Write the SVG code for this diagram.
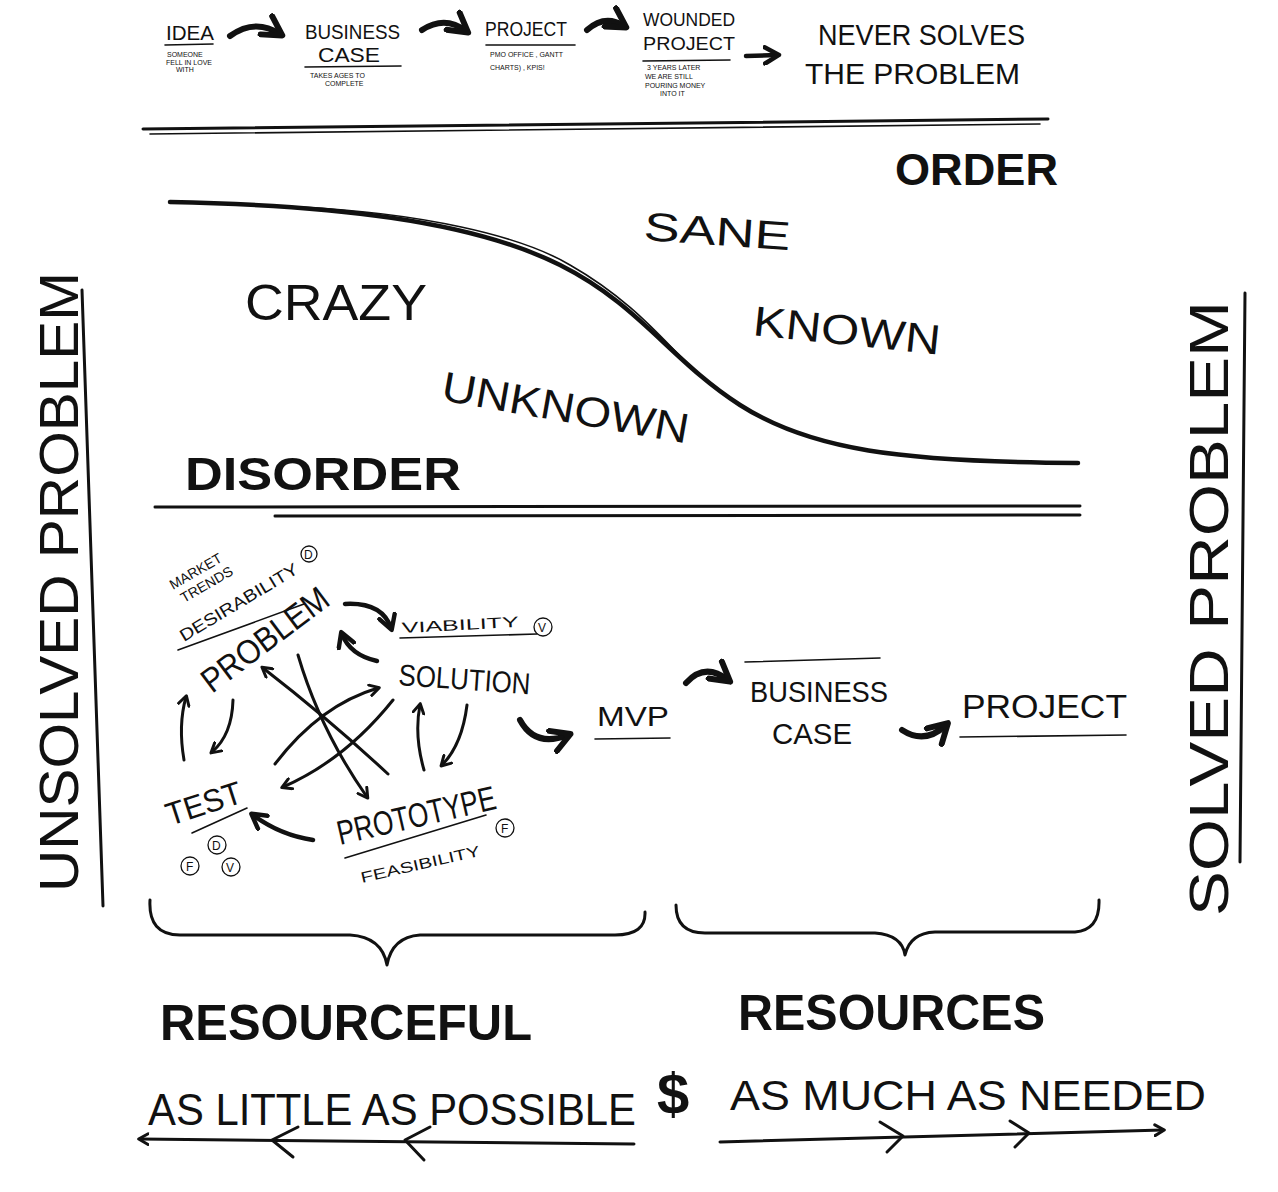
<svg xmlns="http://www.w3.org/2000/svg" width="1278" height="1192" viewBox="0 0 1278 1192">
<style>
text{font-family:"Liberation Sans",Arial,sans-serif;fill:#111}
.t{font-weight:normal}
.b{font-weight:bold}
.s{font-size:7px}
.ln{fill:none;stroke:#111;stroke-linecap:round;stroke-linejoin:round}
.thin{stroke-width:1.6}
.med{stroke-width:3}
.thick{stroke-width:4.5}
.xl{stroke-width:6}
.circ{fill:none;stroke:#111;stroke-width:1.3}
</style>
<defs>
<marker id="ah" viewBox="0 0 10 10" refX="7" refY="5" markerWidth="4.5" markerHeight="4.5" orient="auto-start-reverse">
<path d="M1,1 L8,5 L1,9" fill="none" stroke="#111" stroke-width="2.2" stroke-linecap="round" stroke-linejoin="round"/>
</marker>
</defs>
<rect width="1278" height="1192" fill="#fff"/>

<!-- Top flow -->
<g id="idea">
<text x="166" y="40" font-size="20" textLength="48" lengthAdjust="spacingAndGlyphs">IDEA</text>
<path class="ln thin" d="M165,45 L213,44"/>
<text class="s" x="167" y="57">SOMEONE</text>
<text class="s" x="166" y="65">FELL IN LOVE</text>
<text class="s" x="176" y="72">WITH</text>
</g>
<g id="business-case-top">
<text x="305" y="39" font-size="20" textLength="95" lengthAdjust="spacingAndGlyphs">BUSINESS</text>
<text x="318" y="62" font-size="20" textLength="62" lengthAdjust="spacingAndGlyphs">CASE</text>
<path class="ln thin" d="M305,67 L401,66"/>
<text class="s" x="310" y="78">TAKES  AGES  TO</text>
<text class="s" x="325" y="86">COMPLETE</text>
</g>
<g id="project-top">
<text x="485" y="36" font-size="20" textLength="82" lengthAdjust="spacingAndGlyphs">PROJECT</text>
<path class="ln thin" d="M486,45 L575,45"/>
<text class="s" x="490" y="57">PMO OFFICE , GANTT</text>
<text class="s" x="490" y="70">CHARTS) , KPIS!</text>
</g>
<g id="wounded-project">
<text x="643" y="26" font-size="18" textLength="92" lengthAdjust="spacingAndGlyphs">WOUNDED</text>
<text x="643" y="50" font-size="18" textLength="92" lengthAdjust="spacingAndGlyphs">PROJECT</text>
<path class="ln thin" d="M643,61 L730,60"/>
<text class="s" x="647" y="70">3 YEARS LATER</text>
<text class="s" x="645" y="79">WE ARE STILL</text>
<text class="s" x="645" y="88">POURING MONEY</text>
<text class="s" x="660" y="96">INTO IT</text>
</g>
<g id="never-solves">
<text x="818" y="45" font-size="30" textLength="207" lengthAdjust="spacingAndGlyphs">NEVER SOLVES</text>
<text x="805" y="84" font-size="30" textLength="215" lengthAdjust="spacingAndGlyphs">THE   PROBLEM</text>
</g>

<!-- Cynefin-like area -->
<g id="order"><text class="b" x="895" y="185" font-size="44" textLength="163" lengthAdjust="spacingAndGlyphs">ORDER</text></g>
<g id="sane"><text x="643" y="240" font-size="40" textLength="147" lengthAdjust="spacingAndGlyphs" transform="rotate(4 643 240)">SANE</text></g>
<g id="crazy"><text x="245" y="320" font-size="50" textLength="182" lengthAdjust="spacingAndGlyphs">CRAZY</text></g>
<g id="known"><text x="752" y="335" font-size="42" textLength="188" lengthAdjust="spacingAndGlyphs" transform="rotate(6 752 335)">KNOWN</text></g>
<g id="unknown"><text x="440" y="400" font-size="42" textLength="250" lengthAdjust="spacingAndGlyphs" transform="rotate(10 440 400)">UNKNOWN</text></g>
<g id="disorder"><text class="b" x="185" y="490" font-size="46" textLength="276" lengthAdjust="spacingAndGlyphs">DISORDER</text></g>

<g id="unsolved-problem"><text x="0" y="0" font-size="56" textLength="620" lengthAdjust="spacingAndGlyphs" transform="translate(78 892) rotate(-90)">UNSOLVED  PROBLEM</text></g>
<g id="solved-problem"><text x="0" y="0" font-size="56" textLength="615" lengthAdjust="spacingAndGlyphs" transform="translate(1228 916) rotate(-90)">SOLVED  PROBLEM</text></g>

<!-- cycle -->
<g id="desirability">
<text x="0" y="0" font-size="14" textLength="58" lengthAdjust="spacingAndGlyphs" transform="translate(173 590) rotate(-30)">MARKET</text>
<text x="0" y="0" font-size="14" textLength="58" lengthAdjust="spacingAndGlyphs" transform="translate(184 603) rotate(-30)">TRENDS</text>
<text x="0" y="0" font-size="17" textLength="135" lengthAdjust="spacingAndGlyphs" transform="translate(184 642) rotate(-31)">DESIRABILITY</text>
<circle class="circ" cx="309" cy="554" r="8"/>
<text x="304" y="559" font-size="12">D</text>
<path class="ln thin" d="M178,650 L304,604"/>
</g>
<g id="problem"><text x="0" y="0" font-size="34" textLength="150" lengthAdjust="spacingAndGlyphs" transform="translate(212 694) rotate(-37)">PROBLEM</text></g>
<g id="viability">
<text x="402" y="633" font-size="15" textLength="117" lengthAdjust="spacingAndGlyphs" transform="rotate(-3 402 633)">VIABILITY</text>
<circle class="circ" cx="543" cy="627" r="9"/>
<text x="538" y="632" font-size="12">V</text>
<path class="ln thin" d="M400,638 L537,634"/>
</g>
<g id="solution"><text x="398" y="685" font-size="30" textLength="132" lengthAdjust="spacingAndGlyphs" transform="rotate(4 398 685)">SOLUTION</text></g>
<g id="test">
<text x="0" y="0" font-size="32" textLength="78" lengthAdjust="spacingAndGlyphs" transform="translate(170 826) rotate(-18)">TEST</text>
<path class="ln thin" d="M192,833 L247,808"/>
<circle class="circ" cx="217" cy="845" r="9"/><text x="212" y="850" font-size="12">D</text>
<circle class="circ" cx="190" cy="866" r="9"/><text x="186" y="871" font-size="12">F</text>
<circle class="circ" cx="231" cy="867" r="9"/><text x="226" y="872" font-size="12">V</text>
</g>
<g id="prototype">
<text x="0" y="0" font-size="34" textLength="162" lengthAdjust="spacingAndGlyphs" transform="translate(340 845) rotate(-13)">PROTOTYPE</text>
<path class="ln thin" d="M345,858 L486,815"/>
<text x="0" y="0" font-size="15" textLength="122" lengthAdjust="spacingAndGlyphs" transform="translate(362 883) rotate(-13)">FEASIBILITY</text>
<circle class="circ" cx="505" cy="828" r="9"/><text x="501" y="833" font-size="12">F</text>
</g>
<g id="mvp">
<text x="597" y="726" font-size="28" textLength="72" lengthAdjust="spacingAndGlyphs">MVP</text>
<path class="ln thin" d="M595,739 L670,738"/>
</g>
<g id="business-case">
<path class="ln thin" d="M745,662 L880,658"/>
<text x="750" y="702" font-size="30" textLength="138" lengthAdjust="spacingAndGlyphs">BUSINESS</text>
<text x="772" y="744" font-size="30" textLength="80" lengthAdjust="spacingAndGlyphs">CASE</text>
</g>
<g id="project">
<text x="962" y="718" font-size="34" textLength="165" lengthAdjust="spacingAndGlyphs">PROJECT</text>
<path class="ln thin" d="M960,737 L1126,735"/>
</g>

<g id="resourceful"><text class="b" x="160" y="1040" font-size="50" textLength="372" lengthAdjust="spacingAndGlyphs">RESOURCEFUL</text></g>
<g id="resources"><text class="b" x="738" y="1030" font-size="50" textLength="307" lengthAdjust="spacingAndGlyphs">RESOURCES</text></g>
<g id="as-little"><text x="148" y="1125" font-size="44" textLength="488" lengthAdjust="spacingAndGlyphs">AS LITTLE AS POSSIBLE</text></g>
<g id="dollar"><text class="b" x="657" y="1114" font-size="58">$</text></g>
<g id="as-much"><text x="730" y="1110" font-size="42" textLength="476" lengthAdjust="spacingAndGlyphs">AS MUCH AS NEEDED</text></g>

<!-- connectors & lines -->
<g id="connectors">
<path class="ln xl" d="M230,36 Q255,18 280,34" marker-end="url(#ah)"/>
<path class="ln xl" d="M422,30 Q445,15 466,31" marker-end="url(#ah)"/>
<path class="ln xl" d="M587,30 Q605,14 624,26" marker-end="url(#ah)"/>
<path class="ln thick" d="M746,56 L777,55" marker-end="url(#ah)"/>
<path class="ln med" d="M143,129 Q600,125 1048,119"/>
<path class="ln thin" d="M150,134 Q600,128 1040,124"/>
<path class="ln thick" d="M170,202 C330,205 470,220 560,265 C640,305 670,360 740,405 C810,450 900,462 1078,463"/>
<path class="ln thin" d="M300,207 C420,213 520,235 570,265 C640,305 670,350 700,375"/>
<path class="ln med" d="M155,507 L1080,506"/>
<path class="ln med" d="M275,516 L1080,515"/>
<path class="ln med" d="M82,290 L103,906"/>
<path class="ln med" d="M1245,293 L1240,862"/>
<path class="ln thick" d="M345,604 Q382,602 391,628" marker-end="url(#ah)"/>
<path class="ln thick" d="M377,661 Q350,655 342,634" marker-end="url(#ah)"/>
<path class="ln med" d="M184,760 Q178,725 186,697" marker-end="url(#ah)"/>
<path class="ln med" d="M233,700 Q232,735 212,752" marker-end="url(#ah)"/>
<path class="ln med" d="M424,770 Q414,735 420,705" marker-end="url(#ah)"/>
<path class="ln med" d="M467,705 Q462,745 442,765" marker-end="url(#ah)"/>
<path class="ln thick" d="M313,840 Q280,835 253,815" marker-end="url(#ah)"/>
<path class="ln med" d="M298,655 Q320,730 367,797" marker-end="url(#ah)"/>
<path class="ln med" d="M388,774 Q330,720 263,668" marker-end="url(#ah)"/>
<path class="ln med" d="M275,764 Q320,705 378,688" marker-end="url(#ah)"/>
<path class="ln med" d="M393,700 Q345,760 283,787" marker-end="url(#ah)"/>
<path class="ln xl" d="M520,720 Q535,748 568,735" marker-end="url(#ah)"/>
<path class="ln xl" d="M686,683 Q705,662 728,680" marker-end="url(#ah)"/>
<path class="ln xl" d="M902,730 Q925,745 946,725" marker-end="url(#ah)"/>
<path class="ln med" d="M150,900 Q148,935 180,935 L350,935 Q382,937 387,965 Q392,937 420,935 L615,935 Q646,935 645,912"/>
<path class="ln med" d="M676,905 Q676,933 705,933 L875,933 Q902,935 905,955 Q910,933 935,932 L1075,932 Q1100,930 1099,900"/>
<path class="ln med" d="M634,1144 L140,1139" marker-end="url(#ah)"/>
<path class="ln med" d="M298,1127 L272,1140 L293,1157"/>
<path class="ln med" d="M430,1127 L405,1140 L424,1160"/>
<path class="ln med" d="M720,1142 L1163,1130" marker-end="url(#ah)"/>
<path class="ln med" d="M880,1122 L903,1136 L887,1152"/>
<path class="ln med" d="M1010,1121 L1029,1133 L1015,1147"/>
</g>
</svg>
